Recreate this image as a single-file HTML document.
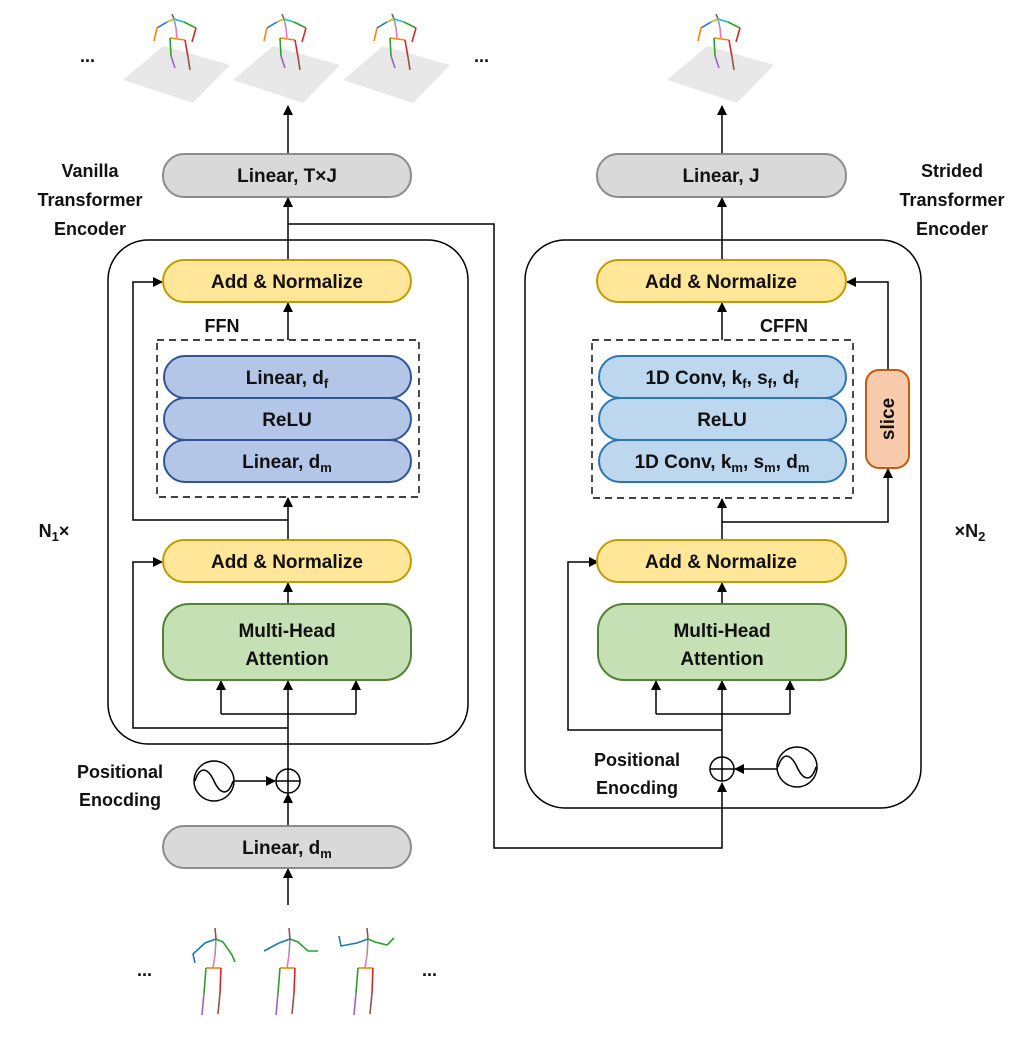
<!DOCTYPE html>
<html><head><meta charset="utf-8"><style>
body{margin:0;background:#fff}
svg text{font-family:"Liberation Sans","DejaVu Sans",sans-serif;fill:#111;font-weight:bold}
</style></head><body>
<svg width="1032" height="1034" viewBox="0 0 1032 1034" xmlns="http://www.w3.org/2000/svg">
<defs>
<marker id="a" markerWidth="10" markerHeight="10" refX="9" refY="5" orient="auto" markerUnits="userSpaceOnUse"><path d="M0,0 L10,5 L0,10 z" fill="#000"/></marker>
<g id="sk3">
<polygon points="123,80 163,46 230,65 193,103" fill="#e8e8e8"/>
<g stroke-width="1.6" fill="none">
<line x1="172" y1="14" x2="174" y2="19" stroke="#8c564b"/>
<line x1="174" y1="19" x2="176" y2="28" stroke="#999"/>
<line x1="176" y1="28" x2="177" y2="38" stroke="#e377c2"/>
<line x1="174" y1="19" x2="167" y2="22" stroke="#bcbd22"/>
<line x1="167" y1="22" x2="157" y2="28" stroke="#1f77b4"/>
<line x1="157" y1="28" x2="154" y2="41" stroke="#ff7f0e"/>
<line x1="174" y1="19" x2="184" y2="22" stroke="#17becf"/>
<line x1="184" y1="22" x2="196" y2="28" stroke="#2ca02c"/>
<line x1="196" y1="28" x2="192" y2="42" stroke="#d62728"/>
<line x1="170" y1="38" x2="185" y2="40" stroke="#ff7f0e"/>
<line x1="170" y1="38" x2="171" y2="56" stroke="#2ca02c"/>
<line x1="171" y1="56" x2="175" y2="68" stroke="#9467bd"/>
<line x1="185" y1="40" x2="188" y2="57" stroke="#d62728"/>
<line x1="188" y1="57" x2="190" y2="70" stroke="#8c564b"/>
</g></g>
<g id="skb">
<g stroke-width="1.6" fill="none">
<line x1="215" y1="928" x2="216" y2="939" stroke="#8c564b"/>
<line x1="216" y1="939" x2="215" y2="955" stroke="#999"/>
<line x1="215" y1="955" x2="213" y2="968" stroke="#e377c2"/>
<line x1="206" y1="968" x2="221" y2="968" stroke="#ff7f0e"/>
<line x1="206" y1="968" x2="204" y2="993" stroke="#2ca02c"/>
<line x1="204" y1="993" x2="202" y2="1015" stroke="#9467bd"/>
<line x1="221" y1="968" x2="220" y2="993" stroke="#d62728"/>
<line x1="220" y1="993" x2="218" y2="1014" stroke="#8c564b"/>
</g></g>
</defs>

<use href="#sk3"/><use href="#sk3" x="110"/><use href="#sk3" x="220"/><use href="#sk3" x="544"/>
<text x="80" y="62" font-size="18">...</text>
<text x="474" y="62" font-size="18">...</text>

<use href="#skb"/><use href="#skb" x="74"/><use href="#skb" x="152"/>
<g stroke-width="1.6" fill="none">
<polyline points="216,939 205,943 193,954 195,963" stroke="#1f77b4"/>
<polyline points="216,939 223,942 232,955 235,962" stroke="#2ca02c"/>
<polyline points="290,939 279,943 264,951" stroke="#1f77b4"/>
<polyline points="290,939 298,942 308,951 318,951" stroke="#2ca02c"/>
<polyline points="368,939 357,943 341,946 339,936" stroke="#1f77b4"/>
<polyline points="368,939 375,942 387,945 394,938" stroke="#2ca02c"/>
</g>
<text x="137" y="976" font-size="18">...</text>
<text x="422" y="976" font-size="18">...</text>

<rect x="108" y="240" width="360" height="504" rx="40" fill="none" stroke="#000" stroke-width="1.5"/>
<rect x="525" y="240" width="396" height="568" rx="40" fill="none" stroke="#000" stroke-width="1.5"/>

<g font-size="18" text-anchor="middle">
<text x="90" y="177">Vanilla</text><text x="90" y="206">Transformer</text><text x="90" y="235">Encoder</text>
<text x="952" y="177">Strided</text><text x="952" y="206">Transformer</text><text x="952" y="235">Encoder</text>
<text x="120" y="778">Positional</text><text x="120" y="806">Enocding</text>
<text x="637" y="766">Positional</text><text x="637" y="794">Enocding</text>
<text x="54" y="537">N<tspan font-size="13" dy="4">1</tspan><tspan dy="-4">×</tspan></text>
<text x="970" y="537">×N<tspan font-size="13" dy="4">2</tspan></text>
<text x="222" y="332">FFN</text><text x="784" y="332">CFFN</text>
</g>

<g stroke="#000" stroke-width="1.5" fill="none">
<line x1="288" y1="154" x2="288" y2="106" marker-end="url(#a)"/>
<line x1="722" y1="154" x2="722" y2="106" marker-end="url(#a)"/>
<line x1="288" y1="260" x2="288" y2="198" marker-end="url(#a)"/>
<line x1="722" y1="260" x2="722" y2="198" marker-end="url(#a)"/>
<line x1="288" y1="340" x2="288" y2="303" marker-end="url(#a)"/>
<line x1="722" y1="340" x2="722" y2="303" marker-end="url(#a)"/>
<polyline points="288,224 494,224 494,848 722,848 722,783" marker-end="url(#a)"/>
<line x1="288" y1="540" x2="288" y2="498" marker-end="url(#a)"/>
<line x1="722" y1="540" x2="722" y2="499" marker-end="url(#a)"/>
<polyline points="288,520 133,520 133,282 162,282" marker-end="url(#a)"/>
<polyline points="722,522 888,522 888,469" marker-end="url(#a)"/>
<polyline points="888,370 888,282 847,282" marker-end="url(#a)"/>
<line x1="288" y1="604" x2="288" y2="583" marker-end="url(#a)"/>
<line x1="722" y1="604" x2="722" y2="583" marker-end="url(#a)"/>
<line x1="288" y1="769" x2="288" y2="681" marker-end="url(#a)"/>
<polyline points="221,714 221,681" marker-end="url(#a)"/>
<polyline points="356,714 356,681" marker-end="url(#a)"/>
<line x1="221" y1="714" x2="356" y2="714"/>
<polyline points="288,728 133,728 133,562 162,562" marker-end="url(#a)"/>
<line x1="722" y1="758" x2="722" y2="681" marker-end="url(#a)"/>
<polyline points="656,714 656,681" marker-end="url(#a)"/>
<polyline points="790,714 790,681" marker-end="url(#a)"/>
<line x1="656" y1="714" x2="790" y2="714"/>
<polyline points="722,730 568,730 568,562 598,562" marker-end="url(#a)"/>
<line x1="288" y1="826" x2="288" y2="794" marker-end="url(#a)"/>
<line x1="288" y1="905" x2="288" y2="869" marker-end="url(#a)"/>
<line x1="234" y1="781" x2="275" y2="781" marker-end="url(#a)"/>
<line x1="777" y1="769" x2="735" y2="769" marker-end="url(#a)"/>
<circle cx="288" cy="781" r="12"/><line x1="276" y1="781" x2="300" y2="781"/><line x1="288" y1="769" x2="288" y2="793"/>
<circle cx="722" cy="769" r="12"/><line x1="710" y1="769" x2="734" y2="769"/><line x1="722" y1="757" x2="722" y2="781"/>
<circle cx="214" cy="781" r="20"/><path d="M195,781 C200,765 208,768 214,781 C220,794 228,797 233,781"/>
<circle cx="797" cy="767" r="20"/><path d="M778,767 C783,751 791,754 797,767 C803,780 811,783 816,767"/>
</g>

<rect x="157" y="340" width="262" height="157" fill="none" stroke="#000" stroke-width="1.4" stroke-dasharray="7,5"/>
<rect x="592" y="340" width="261" height="158" fill="none" stroke="#000" stroke-width="1.4" stroke-dasharray="7,5"/>

<g stroke-width="2">
<rect x="163" y="154" width="248" height="43" rx="21" fill="#d9d9d9" stroke="#8c8c8c"/>
<rect x="597" y="154" width="249" height="43" rx="21" fill="#d9d9d9" stroke="#8c8c8c"/>
<rect x="163" y="826" width="248" height="42" rx="21" fill="#d9d9d9" stroke="#8c8c8c"/>
<rect x="163" y="260" width="248" height="42" rx="21" fill="#ffe699" stroke="#c49a00"/>
<rect x="597" y="260" width="249" height="42" rx="21" fill="#ffe699" stroke="#c49a00"/>
<rect x="163" y="540" width="248" height="42" rx="21" fill="#ffe699" stroke="#c49a00"/>
<rect x="597" y="540" width="249" height="42" rx="21" fill="#ffe699" stroke="#c49a00"/>
<rect x="163" y="604" width="248" height="76" rx="26" fill="#c5e0b4" stroke="#548235"/>
<rect x="598" y="604" width="248" height="76" rx="26" fill="#c5e0b4" stroke="#548235"/>
<rect x="164" y="356" width="247" height="42" rx="21" fill="#b4c6e7" stroke="#2f5597"/>
<rect x="164" y="398" width="247" height="42" rx="21" fill="#b4c6e7" stroke="#2f5597"/>
<rect x="164" y="440" width="247" height="42" rx="21" fill="#b4c6e7" stroke="#2f5597"/>
<rect x="599" y="356" width="247" height="42" rx="21" fill="#bdd7ee" stroke="#2e75b6"/>
<rect x="599" y="398" width="247" height="42" rx="21" fill="#bdd7ee" stroke="#2e75b6"/>
<rect x="599" y="440" width="247" height="42" rx="21" fill="#bdd7ee" stroke="#2e75b6"/>
<rect x="866" y="370" width="43" height="98" rx="13" fill="#f8cbad" stroke="#c55a11"/>
</g>

<g font-size="19" text-anchor="middle">
<text x="287" y="182">Linear, T×J</text>
<text x="721" y="182">Linear, J</text>
<text x="287" y="854">Linear, d<tspan font-size="13" dy="4">m</tspan></text>
<text x="287" y="288">Add &amp; Normalize</text>
<text x="721" y="288">Add &amp; Normalize</text>
<text x="287" y="568">Add &amp; Normalize</text>
<text x="721" y="568">Add &amp; Normalize</text>
<text x="287" y="637">Multi-Head</text><text x="287" y="665">Attention</text>
<text x="722" y="637">Multi-Head</text><text x="722" y="665">Attention</text>
<text x="287" y="384">Linear, d<tspan font-size="13" dy="4">f</tspan></text>
<text x="287" y="426">ReLU</text>
<text x="287" y="468">Linear, d<tspan font-size="13" dy="4">m</tspan></text>
<text x="722" y="384">1D Conv, k<tspan font-size="13" dy="4">f</tspan><tspan dy="-4">, s</tspan><tspan font-size="13" dy="4">f</tspan><tspan dy="-4">, d</tspan><tspan font-size="13" dy="4">f</tspan></text>
<text x="722" y="426">ReLU</text>
<text x="722" y="468">1D Conv, k<tspan font-size="13" dy="4">m</tspan><tspan dy="-4">, s</tspan><tspan font-size="13" dy="4">m</tspan><tspan dy="-4">, d</tspan><tspan font-size="13" dy="4">m</tspan></text>
<text x="0" y="0" transform="translate(894,419) rotate(-90)">slice</text>
</g>
</svg>
</body></html>
